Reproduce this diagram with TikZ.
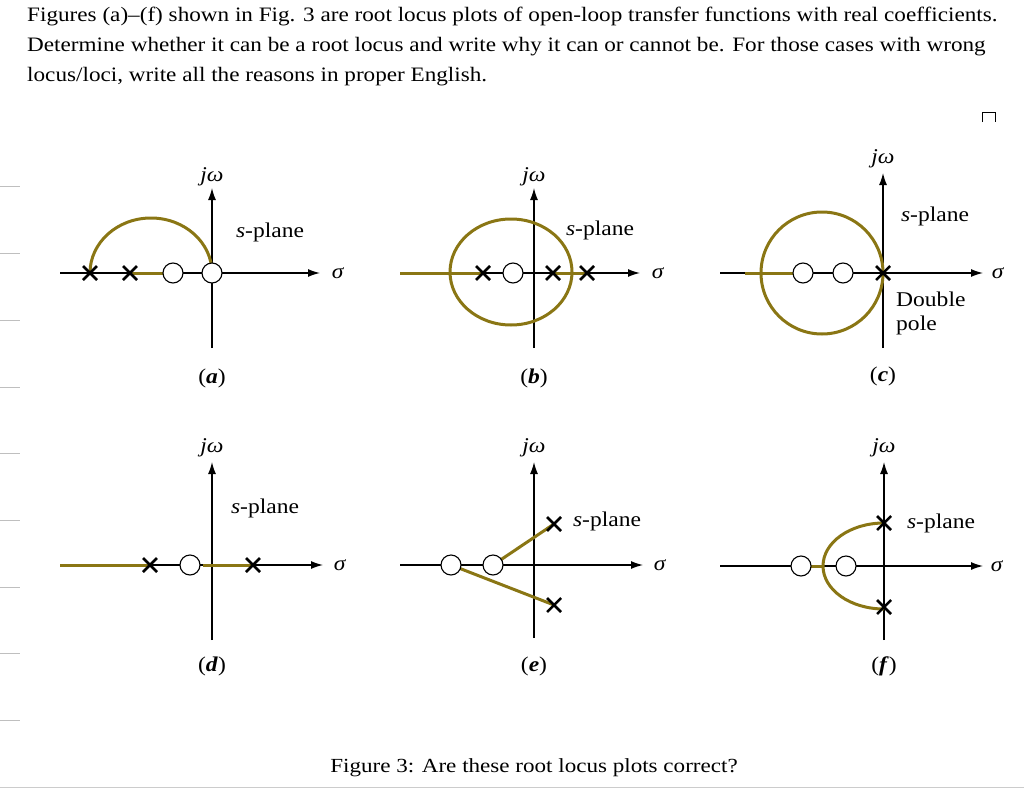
\documentclass[tikz,border=0pt]{standalone}
\usepackage{fontspec}
\setmainfont{Liberation Serif}
\usetikzlibrary{arrows.meta}
\definecolor{gold}{HTML}{8A7614}
\begin{document}
\begin{tikzpicture}[x=1pt,y=-1pt,
  ax/.style={line width=1.3pt,-{Latex[length=12pt,width=8pt]}},
  vax/.style={line width=1.3pt},
  locus/.style={gold,line width=3pt},
  zero/.style={circle,draw,line width=1.1pt,fill=white,minimum size=20pt,inner sep=0pt},
  lbl/.style={font=\fontsize{21}{24}\selectfont,inner sep=0pt,xscale=1.12},
  hdr/.style={font=\fontsize{20.5}{24}\selectfont,anchor=base west,inner sep=0pt,xscale=1.13},
  margin/.style={gray!50,line width=0.8pt}]
\useasboundingbox (0,0) rectangle (1024,789);
\newcommand{\pole}[2]{\draw[line width=2.5pt] (#1-7,#2-7) -- (#1+7,#2+7) (#1-7,#2+7) -- (#1+7,#2-7);}
% header
\node[hdr] (h1) at (27,22) {Figures (a)--(f) shown in Fig. 3 are root locus plots of open-loop transfer functions with real coefficients.};
\node[hdr] (h2) at (27,52) {Determine whether it can be a root locus and write why it can or cannot be. For those cases with wrong};
\node[hdr] (h3) at (27,82) {locus/loci, write all the reasons in proper English.};
\foreach \y in {186,253,320,387,453,520,587,653,720} \draw[margin] (0,\y) -- (20,\y);
\draw[line width=1pt] (982,122) -- (982,113) -- (995,113) -- (995,122);
\draw[gray!40,line width=1pt] (0,787) -- (1024,787);
% (a)
\draw[ax] (60,273) -- (320,273);
\draw[vax,-{Latex[length=12pt,width=8pt]}] (212,348) -- (212,188);
\draw[locus] (130,273) -- (163,273);
\draw[locus] (90,273) arc[start angle=180,end angle=0,x radius=61pt,y radius=55pt];
\pole{90}{273}\pole{130}{273}
\node[zero] (az1) at (173,273) {};
\node[zero] (az2) at (212,273) {};
\node[lbl] (aj) at (212,177) {\textit{jω}};
\node[lbl] (as) at (270,232) {\textit{s}-plane};
\node[lbl] (asig) at (338,273) {\textit{σ}};
\node[lbl] (acap) at (212,378) {(\textbf{\textit{a}})};
% (b)
\draw[ax] (400,273) -- (640,273);
\draw[vax,-{Latex[length=12pt,width=8pt]}] (534,348) -- (534,188);
\draw[locus] (400,273) -- (483,273) (553,273) -- (587,273);
\draw[locus] (511,272) ellipse[x radius=61pt,y radius=53pt];
\pole{483}{273}\pole{553}{273}\pole{587}{273}
\node[zero] (bz1) at (513,273) {};
\node[lbl] (bj) at (534,177) {\textit{jω}};
\node[lbl] (bs) at (600,230) {\textit{s}-plane};
\node[lbl] (bsig) at (658,273) {\textit{σ}};
\node[lbl] (bcap) at (534,378) {(\textbf{\textit{b}})};
% (c)
\draw[ax] (720,273) -- (983,273);
\draw[vax,-{Latex[length=12pt,width=8pt]}] (883,348) -- (883,173);
\draw[locus] (745,273) -- (803,273);
\draw[locus] (822,273) circle[radius=61pt];
\pole{883}{273}
\node[zero] (cz1) at (803,273) {};
\node[zero] (cz2) at (843,273) {};
\node[lbl] (cj) at (883,159) {\textit{jω}};
\node[lbl] (cs) at (935,216) {\textit{s}-plane};
\node[lbl] (csig) at (998,273) {\textit{σ}};
\node[lbl,anchor=north west,align=left] (cdp) at (896,292) {Double\\pole};
\node[lbl] (ccap) at (883,376) {(\textbf{\textit{c}})};
% (d)
\draw[ax] (60,565) -- (323,565);
\draw[vax,-{Latex[length=12pt,width=8pt]}] (212,640) -- (212,462);
\draw[locus] (60,565) -- (150,565) (203,565) -- (253,565);
\pole{150}{565}\pole{253}{565}
\node[zero] (dz1) at (190,565) {};
\node[lbl] (dj) at (212,448) {\textit{jω}};
\node[lbl] (ds) at (265,508) {\textit{s}-plane};
\node[lbl] (dsig) at (340,565) {\textit{σ}};
\node[lbl] (dcap) at (212,666) {(\textbf{\textit{d}})};
% (e)
\draw[ax] (400,565) -- (643,565);
\draw[vax,-{Latex[length=12pt,width=8pt]}] (534,638) -- (534,462);
\draw[locus] (493,565) -- (554,524);
\draw[locus] (451,565) -- (554,605);
\pole{554}{524}\pole{554}{605}
\node[zero] (ez1) at (451,565) {};
\node[zero] (ez2) at (493,565) {};
\node[lbl] (ej) at (534,448) {\textit{jω}};
\node[lbl] (es) at (607,521) {\textit{s}-plane};
\node[lbl] (esig) at (660,565) {\textit{σ}};
\node[lbl] (ecap) at (534,666) {(\textbf{\textit{e}})};
% (f)
\draw[ax] (720,566) -- (983,566);
\draw[vax,-{Latex[length=12pt,width=8pt]}] (884,640) -- (884,462);
\draw[locus] (810,566) -- (823,566);
\draw[locus] (884,523) arc[start angle=90,end angle=270,x radius=61pt,y radius=43pt];
\pole{884}{523}\pole{884}{607}
\node[zero] (fz1) at (801,566) {};
\node[zero] (fz2) at (846,566) {};
\node[lbl] (fj) at (884,448) {\textit{jω}};
\node[lbl] (fs) at (941,523) {\textit{s}-plane};
\node[lbl] (fsig) at (997,566) {\textit{σ}};
\node[lbl] (fcap) at (884,666) {(\textbf{\textit{f}})};
% caption
\node[lbl,font=\fontsize{20}{24}\selectfont,xscale=1.03] (cap) at (534,768) {Figure 3: Are these root locus plots correct?};
\end{tikzpicture}
\end{document}
